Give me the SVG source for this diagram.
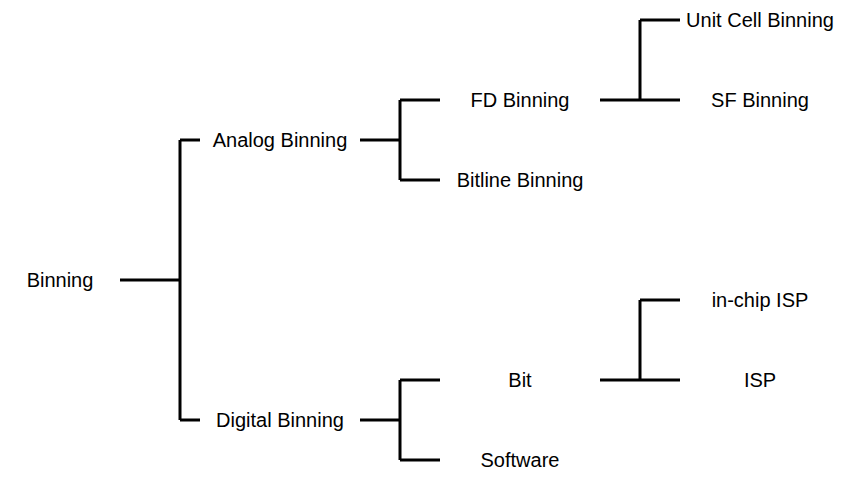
<svg xmlns="http://www.w3.org/2000/svg" width="841" height="481" viewBox="0 0 841 481">
<style>
.t{font-family:"Liberation Sans",Arial,sans-serif;font-size:20px;fill:#000;text-anchor:middle}
.c{fill:none;stroke:#000;stroke-width:3}
</style>
<rect width="841" height="481" fill="#fff"/>
<g id="connectors">
<path class="c" d="M120 280H180M180 140V420M180 140H200M180 420H200"/>
<path class="c" d="M360 140H400M400 100V180M400 100H440M400 180H440"/>
<path class="c" d="M600 100H680M640 20V100M640 20H680"/>
<path class="c" d="M360 420H400M400 380V460M400 380H440M400 460H440"/>
<path class="c" d="M600 380H680M640 300V380M640 300H680"/>
</g>
<g id="n-binning"><text class="t" x="60" y="287">Binning</text></g>
<g id="n-analog"><text class="t" x="280" y="147">Analog Binning</text></g>
<g id="n-digital"><text class="t" x="280" y="427">Digital Binning</text></g>
<g id="n-fd"><text class="t" x="520" y="107">FD Binning</text></g>
<g id="n-bitline"><text class="t" x="520" y="187">Bitline Binning</text></g>
<g id="n-unitcell"><text class="t" x="760" y="27">Unit Cell Binning</text></g>
<g id="n-sf"><text class="t" x="760" y="107">SF Binning</text></g>
<g id="n-bit"><text class="t" x="520" y="387">Bit</text></g>
<g id="n-software"><text class="t" x="520" y="467">Software</text></g>
<g id="n-inchip"><text class="t" x="760" y="307">in-chip ISP</text></g>
<g id="n-isp"><text class="t" x="760" y="387">ISP</text></g>
</svg>
